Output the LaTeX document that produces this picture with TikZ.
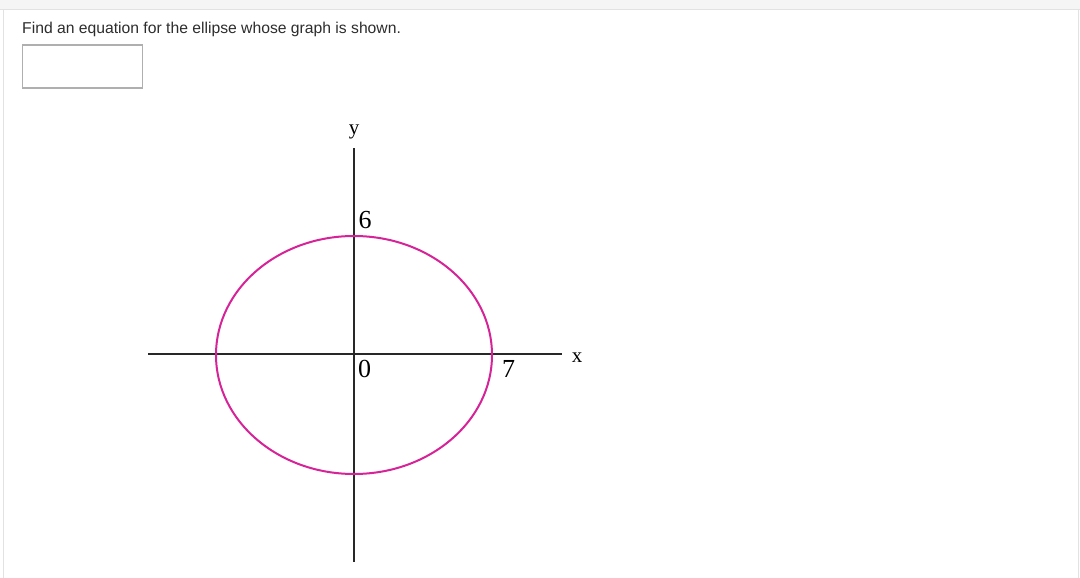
\documentclass[tikz,border=0pt]{standalone}
\usepackage{fontspec}
\setmainfont{Liberation Serif}
\newfontfamily\uifont{Liberation Sans}
\definecolor{curve}{RGB}{214,36,152}
\definecolor{uitext}{RGB}{45,45,45}
\definecolor{frame}{RGB}{226,226,226}
\definecolor{topbar}{RGB}{245,245,245}
\definecolor{boxline}{RGB}{175,175,175}
\definecolor{axis}{RGB}{40,40,40}
\begin{document}
\begin{tikzpicture}[x=1pt,y=-1pt,
  axisline/.style={draw=axis,line width=1.1pt},
  lbl/.style={inner sep=0pt,font=\fontsize{26}{26}\selectfont,text=black},
  axlbl/.style={inner sep=0pt,font=\fontsize{21}{21}\selectfont,text=black}]
\useasboundingbox (0,0) rectangle (1080,578);
\fill[white] (0,0) rectangle (1080,578);
\fill[topbar] (0,0) rectangle (1080,9);
\draw[frame,line width=1pt] (0,9.5) -- (1080,9.5);
\draw[frame,line width=1.5pt] (3.5,9.5) -- (3.5,578);
\draw[frame,line width=1.5pt] (1078.5,9.5) -- (1078.5,578);
\node[anchor=base west,inner sep=0pt,text=uitext,font=\uifont\fontsize{15.7}{15.7}\selectfont] (q) at (22,33.3) {Find an equation for the ellipse whose graph is shown.};
\node[draw=boxline,line width=1.3pt,minimum width=120pt,minimum height=43pt,anchor=north west,inner sep=0pt] (ans) at (22,44.5) {};
\coordinate (xl) at (148,354);
\coordinate (xr) at (562,354);
\coordinate (yt) at (354,148);
\coordinate (yb) at (354,562);
\draw[axisline] (xl) -- (xr);
\draw[axisline] (yt) -- (yb);
\draw[curve,line width=2pt] (354,355) ellipse [x radius=138, y radius=119];
\node[axlbl,anchor=base] (ylab) at (354,134) {y};
\node[axlbl,anchor=base] (xlab) at (577,362) {x};
\node[lbl,anchor=base] (six) at (365,228) {6};
\node[lbl,anchor=base] (zero) at (364.5,377) {0};
\node[lbl,anchor=base] (seven) at (508.5,377) {7};
\end{tikzpicture}
\end{document}
